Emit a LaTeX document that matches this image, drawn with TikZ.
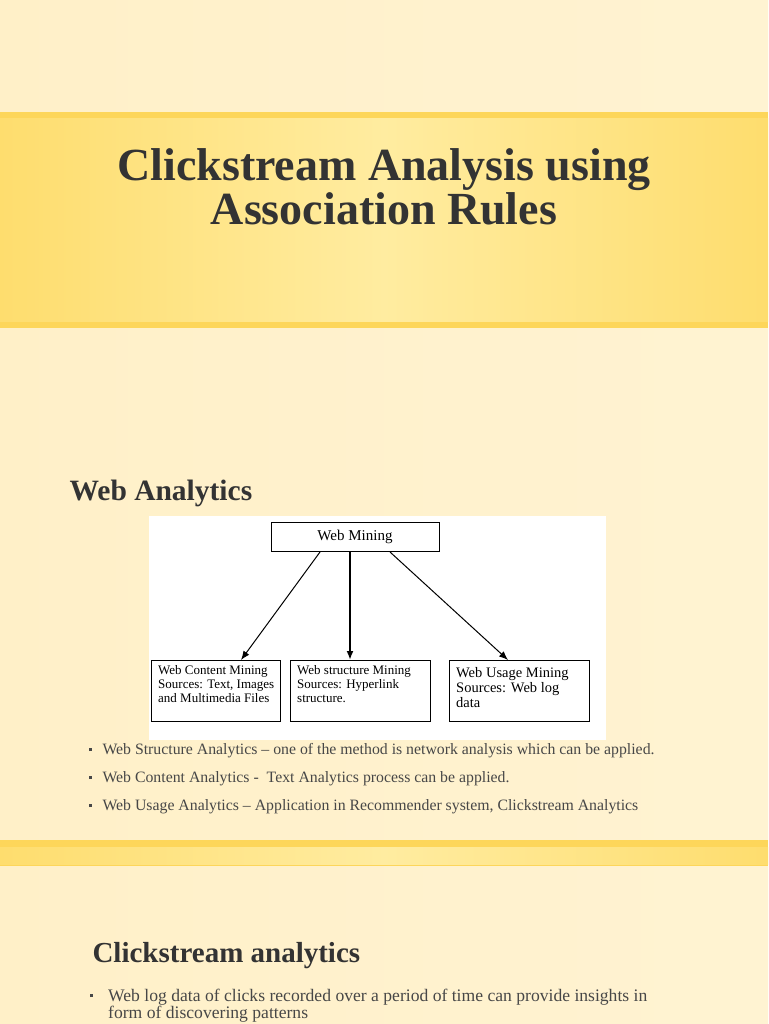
\documentclass[tikz,border=0pt]{standalone}
\usepackage{fontspec}
\setmainfont{Liberation Serif}
\usetikzlibrary{arrows.meta}
\begin{document}
\begin{tikzpicture}[x=1pt,y=-1pt,
  small/.style={font=\fontsize{13}{14}\selectfont,align=left,anchor=north west},
  arr/.style={-{Latex[length=9pt,width=7pt]},line width=1pt},
  bul/.style={anchor=base west,text=black!72,font=\fontsize{15.8}{16}\selectfont}]
\useasboundingbox (0,0) rectangle (768,1024);
\fill[left color={rgb,255:red,255;green,240;blue,200},right color={rgb,255:red,255;green,243;blue,210}] (0,0) rectangle (768,1024);
% title band
\fill[color={rgb,255:red,253;green,214;blue,90}] (0,112) rectangle (768,328);
\fill[left color={rgb,255:red,254;green,221;blue,110},right color={rgb,255:red,254;green,221;blue,110},middle color={rgb,255:red,255;green,236;blue,160}] (0,119) rectangle (768,321);
\node[text={rgb,255:red,51;green,51;blue,51},font=\bfseries\fontsize{46}{44}\selectfont,align=center] (title) at (384,187) {Clickstream Analysis using\\Association Rules};
% second band
\fill[color={rgb,255:red,253;green,214;blue,90}] (0,840) rectangle (768,866);
\fill[left color={rgb,255:red,254;green,221;blue,110},right color={rgb,255:red,254;green,221;blue,110},middle color={rgb,255:red,255;green,236;blue,160}] (0,847) rectangle (768,864);
\node[anchor=base west,text=black!80,font=\bfseries\fontsize{29.5}{30}\selectfont] (h1) at (66,500) {Web Analytics};
\fill[white] (149,516) rectangle (606,740);
\draw[line width=0.6pt] (271,522) rectangle (439,551);
\node[font=\fontsize{15}{16}\selectfont] (wm) at (355,536.5) {Web Mining};
\coordinate (wmL) at (320,552); \coordinate (wmC) at (350,552); \coordinate (wmR) at (390,552);
\draw[line width=0.6pt] (151,660) rectangle (280,721);
\draw[line width=0.6pt] (290,660) rectangle (430,721);
\draw[line width=0.6pt] (449,660) rectangle (589,721);
\node[small,inner sep=0pt] (a) at (158,665) {Web Content Mining\\Sources: Text, Images\\and Multimedia Files};
\node[small,inner sep=0pt] (b) at (297,665) {Web structure Mining\\Sources: Hyperlink\\structure.};
\node[small,inner sep=0pt,font=\fontsize{14.5}{15}\selectfont] (c) at (456,667) {Web Usage Mining\\Sources: Web log\\data};
\coordinate (aT) at (241,660); \coordinate (bT) at (350,660); \coordinate (cT) at (508,660);
\draw[arr] (wmL) -- (aT);
\draw[arr,line width=1.8pt] (wmC) -- (bT);
\draw[arr] (wmR) -- (cT);
\foreach \y/\t in {754/{Web Structure Analytics -- one of the method is network analysis which can be applied.},782/{Web Content Analytics -\ \ Text Analytics process can be applied.},810/{Web Usage Analytics -- Application in Recommender system, Clickstream Analytics}}{
  \node[bul] at (85,\y) {\rule[3pt]{3.5pt}{3.5pt}};
  \node[bul] at (99,\y) {\t};
}
\node[anchor=base west,text=black!80,font=\bfseries\fontsize{29}{30}\selectfont] (h2) at (89,962) {Clickstream analytics};
\node[bul] at (86,1001) {\rule[4pt]{3.5pt}{3.5pt}};
\node[bul,font=\fontsize{17.6}{17}\selectfont,align=left,anchor=north west,inner sep=0pt] (t2) at (108,989) {Web log data of clicks recorded over a period of time can provide insights in\\form of discovering patterns};
\end{tikzpicture}
\end{document}
